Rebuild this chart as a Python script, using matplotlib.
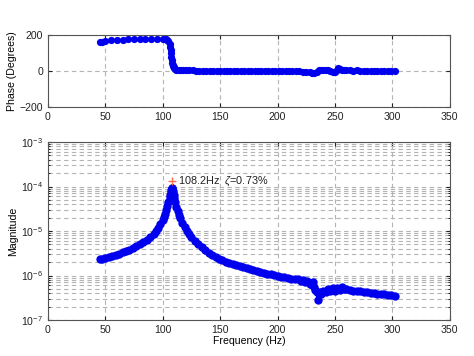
import matplotlib
matplotlib.use("Agg")
import matplotlib.pyplot as plt
from matplotlib.ticker import LogLocator, NullFormatter

plt.rcParams['font.family'] = ['Liberation Sans', 'DejaVu Sans']
plt.rcParams['mathtext.fontset'] = 'custom'
plt.rcParams['mathtext.rm'] = 'Liberation Sans'
plt.rcParams['mathtext.it'] = 'Liberation Sans:italic'

# ---- data ----
freq_phase = [45, 47, 50, 55, 60, 65, 70, 75, 80, 85, 90, 95, 100, 102, 103, 104, 105, 106,
              106.5, 107, 107.3, 107.6, 107.9, 108.2, 108.6, 109, 109.5, 110, 111, 112, 114,
              116, 118, 120, 123, 126, 129, 132, 135, 138, 141, 144, 147, 150, 153, 156, 159,
              162, 165, 168, 171, 174, 177, 180, 183, 186, 189, 192, 195, 198, 201, 204, 207,
              210, 213, 216, 219, 222, 225, 228, 230, 232, 234, 236, 238, 240, 242, 244, 246,
              248, 250, 252, 253, 254, 256, 258, 260, 263, 266, 269, 272, 275, 278, 281, 284,
              287, 290, 293, 296, 299, 302]
phase = [158, 163, 166, 170, 172, 173, 175, 176, 177, 178, 178, 179, 180, 179, 176, 172, 165, 150,
         135, 118, 100, 80, 60, 45, 35, 28, 20, 15, 10, 8, 6,
         5, 4, 3, 3, 3, 2, 2, 2, 1, 2, 1, 1, 1, 1, 0, 1,
         0, 1, 0, 0, 1, 0, 0, 1, 0, 0, 1, 0, 1, 0, 0, -1,
         0, -1, -2, -1, -3, -4, -7, -12, -9, -5, 3, 6, 8, 4, 7, 2,
         -4, -6, 5, 14, 10, 6, 8, 3, 4, 2, 3, 1, 2, 1, 1, 0,
         1, 0, 0, 0, 0, -1]

freq_mag = [45, 47, 50, 53, 56, 59, 62, 65, 68, 71, 74, 77, 80, 83, 86, 89, 92, 94, 96, 98,
            100, 101, 102, 103, 104, 105, 106, 106.5, 107, 107.5, 108, 108.2, 108.5, 109, 109.5,
            110, 111, 112, 113, 114, 115, 117, 119, 121, 123, 125, 128, 131, 134, 137, 140,
            143, 146, 149, 152, 155, 158, 161, 164, 167, 170, 173, 176, 179, 182, 185, 188,
            191, 194, 197, 200, 203, 206, 209, 212, 215, 218, 220, 222, 224, 226, 228, 230,
            231, 232, 233, 234, 235, 236, 237, 238, 240, 242, 244, 246, 248, 250, 252, 254,
            256, 258, 260, 263, 266, 269, 272, 275, 278, 281, 284, 287, 290, 293, 296, 299, 302]
magnitude = [2.3e-6, 2.4e-6, 2.5e-6, 2.65e-6, 2.8e-6, 2.95e-6, 3.1e-6, 3.3e-6, 3.55e-6, 3.8e-6,
             4.1e-6, 4.5e-6, 5.0e-6, 5.6e-6, 6.3e-6, 7.3e-6, 8.7e-6, 1.0e-5, 1.2e-5, 1.45e-5,
             1.8e-5, 2.1e-5, 2.45e-5, 2.9e-5, 3.6e-5, 4.5e-5, 5.7e-5, 6.5e-5, 7.5e-5, 8.5e-5,
             9.3e-5, 9.5e-5, 9.0e-5, 7.8e-5, 6.6e-5,
             5.6e-5, 4.4e-5, 3.5e-5, 2.8e-5, 2.3e-5, 1.95e-5, 1.55e-5, 1.25e-5, 1.02e-5, 8.6e-6,
             7.3e-6, 6.0e-6, 5.0e-6, 4.3e-6, 3.7e-6, 3.25e-6,
             2.9e-6, 2.62e-6, 2.4e-6, 2.2e-6, 2.05e-6, 1.92e-6, 1.82e-6, 1.72e-6, 1.62e-6,
             1.52e-6, 1.45e-6, 1.38e-6, 1.32e-6, 1.26e-6, 1.2e-6, 1.15e-6,
             1.1e-6, 1.06e-6, 1.02e-6, 9.9e-7, 9.5e-7, 9.1e-7, 8.8e-7, 8.5e-7, 8.2e-7, 8.3e-7,
             7.6e-7, 8.0e-7, 7.0e-7, 7.4e-7, 6.6e-7, 6.0e-7,
             7.0e-7, 5.5e-7, 4.8e-7, 4.2e-7, 2.8e-7, 3.8e-7, 4.3e-7, 3.9e-7, 4.6e-7, 4.2e-7,
             4.9e-7, 4.4e-7, 5.2e-7, 4.6e-7, 5.3e-7, 4.8e-7,
             5.5e-7, 4.9e-7, 5.1e-7, 4.7e-7, 4.6e-7, 4.5e-7, 4.4e-7, 4.3e-7, 4.2e-7, 4.1e-7,
             4.0e-7, 3.9e-7, 3.8e-7, 3.75e-7, 3.65e-7, 3.6e-7, 3.5e-7]

peak_freq = 108.2
peak_mag = 1.3e-4
peak_label = "108.2Hz  $\\zeta$=0.73%"

x_ticks = [0, 50, 100, 150, 200, 250, 300, 350]
phase_ticks = [-200, 0, 200]

# ---- plot ----
fig = plt.figure(figsize=(4.74, 3.56), dpi=100)
ax1 = fig.add_axes([0.101, 0.699, 0.848, 0.203])
ax2 = fig.add_axes([0.101, 0.101, 0.848, 0.500])

grid_kw = dict(color='#b4b4b4', linestyle=(0, (4, 3)), linewidth=0.8)
dot = '#0000ee'
fs = 7.6

ax1.plot(freq_phase, phase, 'o', color=dot, markersize=5.2, markeredgewidth=0)
ax1.set_xlim(0, 350)
ax1.set_ylim(-200, 200)
ax1.set_xticks(x_ticks)
ax1.set_yticks(phase_ticks)
ax1.set_ylabel('Phase (Degrees)', fontsize=fs, labelpad=2)
ax1.grid(True, **grid_kw)

ax2.plot(freq_mag, magnitude, 'o', color=dot, markersize=6, markeredgewidth=0)
ax2.plot([peak_freq], [peak_mag], '+', color='#ff6a50', markersize=6, markeredgewidth=1)
ax2.text(peak_freq + 5, peak_mag, peak_label, fontsize=7.8, va='center', ha='left', color='#222222')
ax2.set_yscale('log')
ax2.set_xlim(0, 350)
ax2.set_ylim(1e-7, 1e-3)
ax2.set_xticks(x_ticks)
ax2.yaxis.set_major_locator(LogLocator(base=10, numticks=10))
ax2.yaxis.set_minor_locator(LogLocator(base=10, subs=range(2, 10), numticks=20))
ax2.yaxis.set_minor_formatter(NullFormatter())
ax2.set_xlabel('Frequency (Hz)', fontsize=fs, labelpad=1)
ax2.set_ylabel('Magnitude', fontsize=fs, labelpad=2)
ax2.grid(True, which='major', **grid_kw)
ax2.grid(True, which='minor', axis='y', **grid_kw)

for ax in (ax1, ax2):
    ax.set_axisbelow(True)
    ax.tick_params(direction='in', labelsize=fs, colors='#222222', length=3,
                   top=True, right=True)
    ax.tick_params(which='minor', direction='in', length=1.5, right=True)
    for s in ax.spines.values():
        s.set_color('#555555')
        s.set_linewidth(0.8)

fig.savefig('out.png', dpi=100)
